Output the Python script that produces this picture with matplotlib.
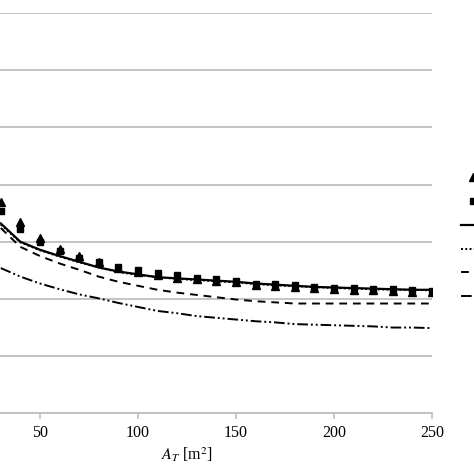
import numpy as np
import matplotlib.pyplot as plt

plt.rcParams['font.family'] = ['Liberation Serif', 'DejaVu Serif']
plt.rcParams['mathtext.fontset'] = 'stix'

# area A_T [m2]
area = [30, 40, 50, 60, 70, 80, 90, 100, 110, 120, 130, 140, 150,
        160, 170, 180, 190, 200, 210, 220, 230, 240, 250]

meas_tri = [3.70, 3.35, 3.06, 2.87, 2.75, 2.64, 2.54, 2.47, 2.42, 2.37, 2.34, 2.31, 2.29,
            2.25, 2.23, 2.21, 2.19, 2.18, 2.16, 2.15, 2.14, 2.13, 2.12]
meas_sq = [3.53, 3.22, 2.99, 2.84, 2.72, 2.65, 2.56, 2.51, 2.45, 2.41, 2.37, 2.34, 2.32,
           2.27, 2.26, 2.24, 2.21, 2.20, 2.19, 2.17, 2.17, 2.16, 2.14]
model_solid = [3.32, 3.00, 2.86, 2.75, 2.65, 2.55, 2.48, 2.43, 2.38, 2.36, 2.34, 2.32, 2.30,
               2.27, 2.25, 2.23, 2.21, 2.20, 2.19, 2.18, 2.17, 2.16, 2.16]
model_dotted = [3.30, 2.99, 2.85, 2.74, 2.64, 2.55, 2.47, 2.42, 2.38, 2.35, 2.33, 2.31, 2.29,
                2.26, 2.24, 2.22, 2.21, 2.19, 2.18, 2.17, 2.16, 2.16, 2.15]
model_dashed = [3.24, 2.91, 2.75, 2.62, 2.51, 2.39, 2.30, 2.23, 2.16, 2.11, 2.07, 2.03, 1.99,
                1.96, 1.94, 1.92, 1.92, 1.92, 1.92, 1.92, 1.92, 1.92, 1.92]
model_dashdot = [2.54, 2.39, 2.27, 2.17, 2.08, 2.01, 1.93, 1.86, 1.79, 1.75, 1.70, 1.67, 1.64,
                 1.61, 1.59, 1.56, 1.55, 1.54, 1.53, 1.52, 1.50, 1.50, 1.49]

x_ticks = [50, 100, 150, 200, 250]

# legend entries sit past the right edge of the picture, only the handles show
fig = plt.figure(figsize=(4.74, 4.74), dpi=100)
ax = fig.add_axes([-0.1224, 0.128, 1.0338, 0.8446])

ax.plot(area, meas_tri, linestyle='none', marker='^', color='black', markersize=6)
ax.plot(area, meas_sq, linestyle='none', marker='s', color='black', markersize=5)
ax.plot(area, model_solid, color='black', linewidth=1.6)
ax.plot(area, model_dotted, color='black', linewidth=1.4, linestyle=(0, (1, 1.2)))
ax.plot(area, model_dashed, color='black', linewidth=1.4, linestyle=(0, (4, 3)))
ax.plot(area, model_dashdot, color='black', linewidth=1.4,
        linestyle=(0, (5.5, 1.5, 1, 1.5, 1, 1.5)))

ax.set_xlim(0, 250)
ax.set_ylim(0, 7)
ax.set_xticks(x_ticks)
ax.set_yticks(np.arange(0, 8, 1))
ax.grid(axis='y', color='#bfbfbf', linewidth=1.3)
ax.set_axisbelow(True)
for s in ['top', 'right', 'left']:
    ax.spines[s].set_visible(False)
ax.spines['bottom'].set_color('#bfbfbf')
ax.spines['bottom'].set_linewidth(1.3)
ax.tick_params(axis='x', colors='#bfbfbf', length=4, width=1.2, pad=4.5,
               labelcolor='black', labelsize=11.5)
ax.tick_params(axis='y', length=0, labelleft=False)
ax.set_xlabel(r'$A_T$ [m$^2$]', fontsize=11.5, labelpad=3)

# legend handles only (the label column is cut off in the original)
fig.legend(handles=ax.get_lines(), labels=[''] * 6, loc='upper left',
           bbox_to_anchor=(0.972, 0.64), frameon=False,
           fontsize=11.5, handlelength=1.5, numpoints=1, labelspacing=0.49,
           borderaxespad=0, borderpad=0, handletextpad=0.5)

fig.savefig('out.png', dpi=100)
